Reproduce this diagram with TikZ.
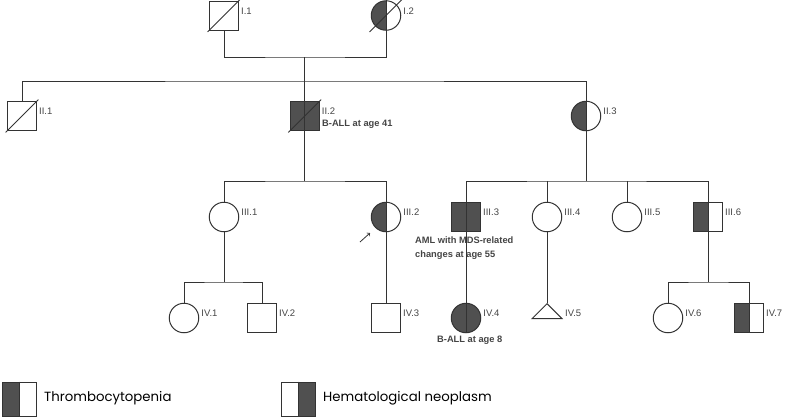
\documentclass[tikz,border=0pt]{standalone}
\usepackage{fontspec}
\setmainfont{Liberation Sans}
\newfontfamily\legendfont{Poppins}
\usetikzlibrary{positioning}
\usetikzlibrary{shapes.geometric}
\definecolor{ink}{HTML}{333333}
\definecolor{dark}{HTML}{505050}
\definecolor{tagink}{HTML}{444444}
\tikzset{
  male/.style={rectangle, draw=ink, fill=white, line width=1pt, minimum size=29pt, inner sep=0pt},
  female/.style={circle, draw=ink, fill=white, line width=1pt, minimum size=29.5pt, inner sep=0pt},
  full/.style={fill=dark},
  lefthalf/.style={path picture={\fill[dark] (path picture bounding box.south west) rectangle (path picture bounding box.north);}},
  righthalf/.style={path picture={\fill[dark] (path picture bounding box.south east) rectangle (path picture bounding box.north);}},
  unknown/.style={isosceles triangle, isosceles triangle apex angle=90, shape border rotate=90, draw=ink, line width=1pt, minimum height=15pt, inner sep=0pt, anchor=apex},
  link/.style={draw=ink, line width=0.9pt},
  slash/.style={draw=ink, line width=0.9pt},
  tag/.style={on grid=false, anchor=west, inner sep=0pt, text=tagink, font=\fontsize{9.5}{11}\selectfont},
  note/.style={tag, font=\fontsize{9.3}{14}\selectfont\bfseries, align=left},
  legend/.style={anchor=west, inner sep=0pt, text=black, font=\fontsize{13.3}{15}\selectfont\legendfont}
}
\begin{document}
\begin{tikzpicture}[x=1pt, y=-1pt, on grid, node distance=101pt]
    \useasboundingbox (0,0) rectangle (785,418);
    % generation I
    \node[male]                (i1)  at (224,15.5)          {};
    \node[female, lefthalf]    (i2)  [right=162pt of i1]    {};
    % generation II
    \node[male]                (ii1) at (22,116)            {};
    \node[male, full]          (ii2) at (304.7,116)         {};
    \node[female, lefthalf]    (ii3) at (586,116)           {};
    % generation III
    \node[female]              (iii1) at (224,217)          {};
    \node[female, lefthalf]    (iii2) [right=162pt of iii1] {};
    \node[male, full]          (iii3) [right=80pt of iii2]  {};
    \node[female]              (iii4) [right=81pt of iii3]  {};
    \node[female]              (iii5) [right=80pt of iii4]  {};
    \node[male, lefthalf]      (iii6) [right=81pt of iii5]  {};
    % generation IV
    \node[female]              (iv1) at (184,318)           {};
    \node[male]                (iv2) [right=78pt of iv1]    {};
    \node[male]                (iv3) [below=of iii2]        {};
    \node[female, full]        (iv4) [below=of iii3]        {};
    \node[unknown]             (iv5) at (547,303)           {};
    \node[female]              (iv6) at (668,318)           {};
    \node[male, lefthalf]      (iv7) [right=81pt of iv6]    {};

    % labels
    \node[tag] (i1t)   [right=2pt of i1.east, yshift=4.5pt]   {I.1};
    \node[tag] (i2t)   [right=2pt of i2.east, yshift=4.5pt]   {I.2};
    \node[tag] (ii1t)  [right=2pt of ii1.east, yshift=4.5pt]  {II.1};
    \node[tag] (ii2t)  [right=2pt of ii2.east, yshift=4.5pt]  {II.2};
    \node[tag] (ii3t)  [right=2pt of ii3.east, yshift=4.5pt]  {II.3};
    \node[tag] (iii1t) [right=2pt of iii1.east, yshift=4.5pt] {III.1};
    \node[tag] (iii2t) [right=2pt of iii2.east, yshift=4.5pt] {III.2};
    \node[tag] (iii3t) [right=2pt of iii3.east, yshift=4.5pt] {III.3};
    \node[tag] (iii4t) [right=2pt of iii4.east, yshift=4.5pt] {III.4};
    \node[tag] (iii5t) [right=2pt of iii5.east, yshift=4.5pt] {III.5};
    \node[tag] (iii6t) [right=2pt of iii6.east, yshift=4.5pt] {III.6};
    \node[tag] (iv1t)  [right=2pt of iv1.east, yshift=4.5pt]  {IV.1};
    \node[tag] (iv2t)  [right=2pt of iv2.east, yshift=4.5pt]  {IV.2};
    \node[tag] (iv3t)  [right=2pt of iv3.east, yshift=4.5pt]  {IV.3};
    \node[tag] (iv4t)  [right=2pt of iv4.east, yshift=4.5pt]  {IV.4};
    \node[tag] (iv5t)  at (565,313.5)                         {IV.5};
    \node[tag] (iv6t)  [right=2pt of iv6.east, yshift=4.5pt]  {IV.6};
    \node[tag] (iv7t)  [right=2pt of iv7.east, yshift=4.5pt]  {IV.7};
    \node[note] (ii2n)  at (322,124.5) {B-ALL at age 41};
    \node[note] (iii3n) at (415,248.5) {AML with MDS-related\\changes at age 55};
    \node[note] (iv4n)  at (437,340)   {B-ALL at age 8};

    % junctions
    \coordinate (fam1) at (304.7,57);
    \coordinate (sib1) at (304.7,81);
    \coordinate (fam2) at (304.7,181);
    \coordinate (fam3) at (586,181);
    \coordinate (fam4) at (224,282);
    \coordinate (fam5) at (708,282);

    \draw[link] (i1.south) |- (fam1) -| (i2.south);
    \draw[link] (fam1) -- (ii2.south);
    \draw[link] (ii1.north) |- (sib1) -| (ii3.north);
    \draw[link] (ii2.south) -- (fam2);
    \draw[link] (iii1.north) |- (fam2) -| (iii2.north);
    \draw[link] (ii3.south) -- (fam3);
    \draw[link] (iii3.north) |- (fam3) -| (iii6.north);
    \draw[link] (iii4.north) -- (iii4.north |- fam3);
    \draw[link] (iii5.north) -- (iii5.north |- fam3);
    \draw[link] (iii1.south) -- (fam4);
    \draw[link] (iv1.north) |- (fam4) -| (iv2.north);
    \draw[link] (iii2.south) -- (iv3.north);
    \draw[link] (iii3.north) -- (iv4.south);
    \draw[link] (iii4.south) -- (iv5.apex);
    \draw[link] (iii6.south) -- (fam5);
    \draw[link] (iv6.north) |- (fam5) -| (iv7.north);
    % half lines
    \draw[link] (i2.north) -- (i2.south);
    \draw[link] (ii3.north) -- (ii3.south);
    \draw[link] (iii2.north) -- (iii2.south);
    \draw[link] (iii6.north) -- (iii6.south);
    \draw[link] (iv7.north) -- (iv7.south);
    % deceased
    \draw[slash, shorten <=-2pt, shorten >=-2pt] (i1.south west) -- (i1.north east);
    \draw[slash, shorten <=-8pt, shorten >=-8pt] (i2.south west) -- (i2.north east);
    \draw[slash, shorten <=-2pt, shorten >=-2pt] (ii1.south west) -- (ii1.north east);
    \draw[slash, shorten <=-2pt, shorten >=-2pt] (ii2.south west) -- (ii2.north east);

    % proband arrow
    \coordinate (probfrom) at (360,242);
    \coordinate (probto)   at (370,233);
    \draw[->, draw=ink, line width=0.8pt] (probfrom) -- (probto);

    % legend
    \node[male, lefthalf, minimum size=34pt]  (thrombo) at (19,399)   {};
    \node[male, righthalf, minimum size=34pt] (neo)     at (298.5,399) {};
    \draw[link] (thrombo.north) -- (thrombo.south);
    \draw[link] (neo.north) -- (neo.south);
    \node[legend] (thrombot) at (44,398)  {Thrombocytopenia};
    \node[legend] (neot)     at (323,398) {Hematological neoplasm};
\end{tikzpicture}
\end{document}
